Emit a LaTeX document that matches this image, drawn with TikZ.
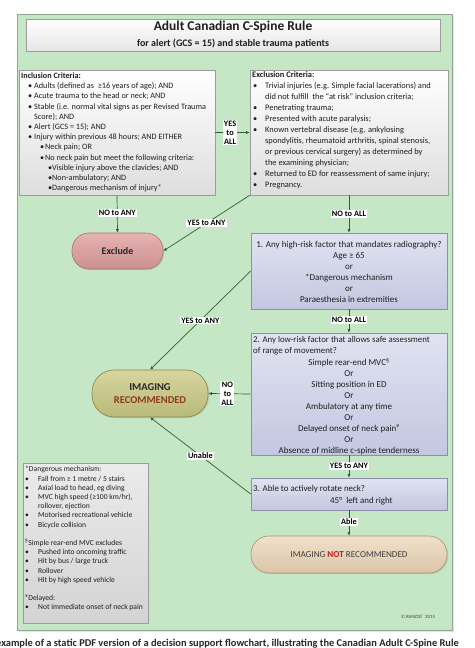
\documentclass[tikz,border=0pt]{standalone}
\usepackage{fontspec}
\setmainfont{Carlito}
\usetikzlibrary{arrows.meta,shadows}
\definecolor{bggreen}{HTML}{C6E7C6}
\definecolor{panelline}{HTML}{8FA88F}
\definecolor{conncol}{HTML}{2F5F35}
\definecolor{txtc}{HTML}{1E1E1E}
\definecolor{greyline}{HTML}{9C9C9C}
\definecolor{bluetop}{HTML}{E1E3F2}
\definecolor{bluebot}{HTML}{C3C7E0}
\definecolor{blueline}{HTML}{8C90AA}
\definecolor{pinktop}{HTML}{E6B3B3}
\definecolor{pinkbot}{HTML}{CC9090}
\definecolor{pinkline}{HTML}{A87070}
\definecolor{olivetop}{HTML}{D6D69E}
\definecolor{olivebot}{HTML}{B9B97A}
\definecolor{oliveline}{HTML}{85854A}
\definecolor{tantop}{HTML}{F0E0CC}
\definecolor{tanbot}{HTML}{DCC5A8}
\definecolor{tanline}{HTML}{A89274}
\definecolor{recred}{HTML}{8E3A1C}
\definecolor{notred}{HTML}{C0201A}

\newcommand\myA[1]{\hspace*{7pt}\makebox[6pt][l]{•}#1}
\newcommand\myAc[1]{\hspace*{13pt}#1}
\newcommand\myB[1]{\hspace*{19pt}\makebox[5pt][l]{•}#1}
\newcommand\myC[1]{\hspace*{27pt}\makebox[4pt][l]{•}#1}
\newcommand\myE[1]{\hspace*{1pt}\makebox[12pt][l]{•}#1}
\newcommand\myEc[1]{\hspace*{13pt}#1}
\newcommand\myF[1]{\makebox[13pt][l]{•}#1}
\newcommand\myFc[1]{\hspace*{13pt}#1}

\tikzset{
  shadowed/.style={drop shadow={opacity=0.25,shadow xshift=1.2pt,shadow yshift=-1.2pt}},
  critbox/.style={draw=greyline,line width=0.6pt,top color=white,bottom color=black!13,shadowed,inner sep=0pt},
  qbox/.style={draw=blueline,line width=0.6pt,top color=bluetop,bottom color=bluebot,shadowed,inner sep=0pt},
  notebox/.style={draw=greyline,line width=0.6pt,top color=black!8,bottom color=black!17,shadowed,inner sep=0pt},
  conn/.style={draw=conncol,line width=0.7pt,-{Latex[length=3.5pt,width=3.2pt]}},
  lbl/.style={fill=white,inner sep=1pt,text=black,font=\fontsize{8.3}{9}\selectfont\bfseries,align=center},
  txt/.style={inner sep=0pt,align=left,anchor=north west,text=txtc},
  ctxt/.style={inner sep=0pt,align=center,anchor=north,text=txtc},
}

\begin{document}
\begin{tikzpicture}[x=1pt,y=-1pt]
\useasboundingbox (0,0) rectangle (474,648);
\fill[white] (0,0) rectangle (474,648);

% panel
\node[draw=panelline,line width=0.7pt,fill=bggreen,minimum width=435pt,minimum height=616pt,inner sep=0pt,drop shadow={opacity=0.2,shadow xshift=1.5pt,shadow yshift=-1.5pt}] (panel) at (234.5,322) {};

% title
\node[critbox,minimum width=414pt,minimum height=32pt,bottom color=black!10] (titlebox) at (233,35) {};
\node[inner sep=0pt,font=\fontsize{13.5}{15}\selectfont\bfseries,text=txtc] (title) at (233,27) {Adult Canadian C-Spine Rule};
\node[inner sep=0pt,font=\fontsize{10}{11}\selectfont\bfseries,text=txtc] (subtitle) at (233,44) {for alert (GCS = 15) and stable trauma patients};

% inclusion
\node[critbox,minimum width=196pt,minimum height=125pt] (incl) at (117,132.5) {};
\node[txt,font=\fontsize{8.2}{10.2}\selectfont] (incltxt) at (21,72.6) {%
\textbf{Inclusion Criteria:}\\
\myA{Adults (defined as\ \ ≥16 years of age); AND}\\
\myA{Acute trauma to the head or neck; AND}\\
\myA{Stable (i.e. normal vital signs as per Revised Trauma}\\
\myAc{Score); AND}\\
\myA{Alert (GCS = 15); AND}\\
\myA{Injury within previous 48 hours; AND EITHER}\\
\myB{Neck pain; OR}\\
\myB{No neck pain but meet the following criteria:}\\
\myC{Visible injury above the clavicles; AND}\\
\myC{Non-ambulatory; AND}\\
\myC{Dangerous mechanism of injury*}};

% exclusion
\node[critbox,minimum width=198pt,minimum height=125pt] (excl) at (349,132.5) {};
\node[txt,font=\fontsize{8.4}{11}\selectfont] (excltxt) at (252,71.8) {%
\textbf{Exclusion Criteria:}\\
\myE{Trivial injuries (e.g. Simple facial lacerations) and}\\
\myEc{did not fulfill\ \ the “at risk” inclusion criteria;}\\
\myE{Penetrating trauma;}\\
\myE{Presented with acute paralysis;}\\
\myE{Known vertebral disease (e.g. ankylosing}\\
\myEc{spondylitis, rheumatoid arthritis, spinal stenosis,}\\
\myEc{or previous cervical surgery) as determined by}\\
\myEc{the examining physician;}\\
\myE{Returned to ED for reassessment of same injury;}\\
\myE{Pregnancy.}};

% outcome pills
\node[draw=pinkline,line width=0.6pt,top color=pinktop,bottom color=pinkbot,rounded corners=17pt,minimum width=91pt,minimum height=36pt,inner sep=0pt,shadowed,font=\fontsize{10}{11}\selectfont\bfseries,text=black!85] (exclude) at (117.5,251) {Exclude};

\node[draw=oliveline,line width=0.6pt,top color=olivetop,bottom color=olivebot,rounded corners=22pt,minimum width=116pt,minimum height=47pt,inner sep=0pt,shadowed,align=center,font=\fontsize{10.5}{13}\selectfont\bfseries,text=black!85] (imgrec) at (150,393.5) {IMAGING\\\textcolor{recred}{RECOMMENDED}};

\node[draw=tanline,line width=0.6pt,top color=tantop,bottom color=tanbot,rounded corners=18pt,minimum width=196pt,minimum height=37pt,inner sep=0pt,shadowed,font=\fontsize{9.1}{10}\selectfont,text=black!75] (notrec) at (349,554.5) {IMAGING \textcolor{notred}{\textbf{NOT}} RECOMMENDED};

% question boxes
\node[qbox,minimum width=196pt,minimum height=76pt] (q1) at (349,271) {};
\node[ctxt,font=\fontsize{9}{11}\selectfont] (q1txt) at (349,240.8) {%
1. Any high-risk factor that mandates radiography?\\
Age ≥ 65\\ or\\ *Dangerous mechanism\\ or\\ Paraesthesia in extremities};

\node[qbox,minimum width=196pt,minimum height=122pt] (q2) at (349,394) {};
\node[txt,font=\fontsize{8.8}{10.9}\selectfont] (q2head) at (253,335.8) {%
2. Any low-risk factor that allows safe assessment\\ of range of movement?};
\node[ctxt,font=\fontsize{9}{10.9}\selectfont] (q2txt) at (349,357.8) {%
Simple rear-end MVC\textsuperscript{§}\\ Or\\ Sitting position in ED\\ Or\\ Ambulatory at any time\\ Or\\ Delayed onset of neck pain\textsuperscript{¥}\\ Or\\ Absence of midline c-spine tenderness};

\node[qbox,minimum width=196pt,minimum height=32pt] (q3) at (349,494) {};
\node[txt,font=\fontsize{8.9}{11}\selectfont] (q3txt) at (253,484.8) {3. Able to actively rotate neck?};
\node[txt,font=\fontsize{8.9}{11}\selectfont] (q3sub) at (330,496.8) {45°\ \ left and right};

% footnotes
\node[notebox,minimum width=125pt,minimum height=160pt] (notes) at (85.5,543) {};
\node[txt,font=\fontsize{7.6}{9.2}\selectfont] (notestxt) at (25,466.3) {%
*Dangerous mechanism:\\
\myF{Fall from ≥ 1 metre / 5 stairs}\\
\myF{Axial load to head, eg diving}\\
\myF{MVC high speed (≥100 km/hr),}\\
\myFc{rollover, ejection}\\
\myF{Motorised recreational vehicle}\\
\myF{Bicycle collision}\\[9.2pt]
\textsuperscript{§}Simple rear-end MVC excludes\\
\myF{Pushed into oncoming traffic}\\
\myF{Hit by bus / large truck}\\
\myF{Rollover}\\
\myF{Hit by high speed vehicle}\\[9.2pt]
\textsuperscript{¥}Delayed:\\
\myF{Not immediate onset of neck pain}};

\node[inner sep=0pt,font=\fontsize{4.8}{5}\selectfont,text=black!75] (copy) at (418,616) {© RANZCR\textsuperscript{®} 2015};

% connectors
\draw[conn] (incl.east) -- node[lbl,pos=0.43]{YES\\to\\ALL} (excl.west);
\draw[conn] (incl.south) -- node[lbl,pos=0.47]{NO to ANY} (exclude.north);
\draw[conn] (excl.south west) -- node[lbl,pos=0.5]{YES to ANY} (exclude.east);
\draw[conn] (excl.south) -- node[lbl,pos=0.5]{NO to ALL} (q1.north);
\draw[conn] (q1.south) -- node[lbl,pos=0.46]{NO to ALL} (q2.north);
\draw[conn] (q1.west) -- node[lbl,pos=0.5]{YES to ANY} (imgrec.north);
\draw[conn] (q2.west) -- node[lbl,pos=0.55]{NO\\to\\ALL} (imgrec.east);
\draw[conn] (q2.south) -- node[lbl,pos=0.48]{YES to ANY} (q3.north);
\draw[conn] (q3.west) -- node[lbl,pos=0.5]{Unable} (imgrec.south);
\draw[conn] (q3.south) -- node[lbl,pos=0.46]{Able} (notrec.north);

% cut caption
\begin{scope}
\clip (0,0) rectangle (474,648);
\node[anchor=west,inner sep=0pt,font=\fontsize{10.4}{12}\selectfont\bfseries,text=black!85] (caption) at (-4,644) {example of a static PDF version of a decision support flowchart, illustrating the Canadian Adult C-Spine Rule};
\end{scope}
\end{tikzpicture}
\end{document}
